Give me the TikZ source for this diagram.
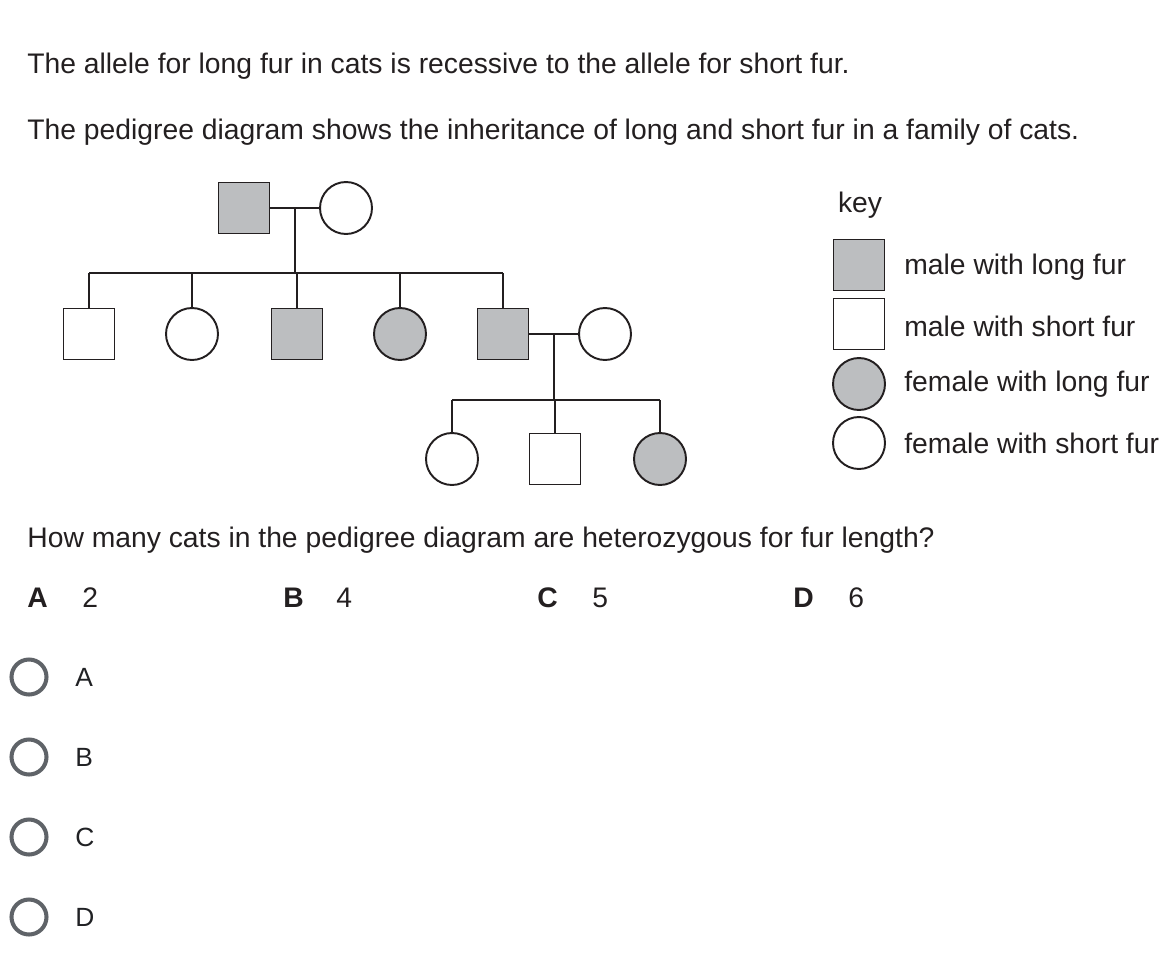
\documentclass[tikz,border=0pt]{standalone}
\usepackage{fontspec}
\setmainfont{Liberation Sans}
\usetikzlibrary{positioning,calc}

\definecolor{furgrey}{HTML}{BCBEC0}
\definecolor{inkgrey}{HTML}{231F20}
\definecolor{radiogrey}{HTML}{5F6368}
\definecolor{formtext}{HTML}{202124}

\tikzset{
    cat/.style={draw=inkgrey, line width=1.1pt, inner sep=0pt},
    male/.style={cat, rectangle, minimum size=1.02cm},
    female/.style={cat, circle, minimum size=1.04cm},
    longfur/.style={fill=furgrey},
    shortfur/.style={fill=white},
    link/.style={draw=inkgrey, line width=1.1pt},
    txt/.style={anchor=west, inner sep=0pt, font=\fontsize{16.1}{19}\selectfont, text=inkgrey},
    radio/.style={circle, draw=radiogrey, line width=2.3pt, minimum size=0.7cm, inner sep=0pt},
    radiolabel/.style={anchor=west, inner sep=0pt, font=\fontsize{15}{18}\selectfont, text=formtext}
}

\begin{document}
\begin{tikzpicture}[x=0.02cm, y=-0.02cm]
    % lienzo
    \useasboundingbox (0,0) rectangle (1172,970);

    % enunciado
    \node[txt] (intro) at (27,66) {The allele for long fur in cats is recessive to the allele for short fur.};
    \node[txt] (pedtext) at (27,132) {The pedigree diagram shows the inheritance of long and short fur in a family of cats.};

    %—————— generación 1 ——————
    \node[male, longfur] (dad) at (244,208) {};
    \node[female, shortfur] (mum) at (346,208) {};
    \coordinate (pair1) at ($(dad.east)!0.5!(mum.west)$);
    \coordinate (sib1) at (297,273);
    \draw[link] (dad.east) -- (mum.west);
    \draw[link] (pair1) -- (pair1 |- sib1);

    %—————— generación 2 ——————
    \node[male, shortfur]   (kidA) at (89,334) {};
    \node[female, shortfur] (kidB) at (192,334) {};
    \node[male, longfur]    (kidC) at (297,334) {};
    \node[female, longfur]  (kidD) at (400,334) {};
    \node[male, longfur]    (kidE) at (503,334) {};
    \node[female, shortfur] (wifeE) at (605,334) {};
    \draw[link] (kidA |- sib1) -- (kidE |- sib1);
    \foreach \k in {kidA,kidB,kidC,kidD,kidE}
        \draw[link] (\k.north) -- (\k |- sib1);
    \draw[link] (kidE.east) -- (wifeE.west);
    \coordinate (pair2) at ($(kidE.east)!0.5!(wifeE.west)$);
    \coordinate (sib2) at (555,400);
    \draw[link] (pair2) -- (pair2 |- sib2);

    %—————— generación 3 ——————
    \node[female, shortfur] (grandA) at (452,459) {};
    \node[male, shortfur]   (grandB) at (555,459) {};
    \node[female, longfur]  (grandC) at (660,459) {};
    \draw[link] (grandA |- sib2) -- (grandC |- sib2);
    \foreach \k in {grandA,grandB,grandC}
        \draw[link] (\k.north) -- (\k |- sib2);

    %—————— clave ——————
    \node[txt, anchor=center] (keytitle) at (860,205) {key};
    \node[male, longfur]    (keyML) at (859,265) {};
    \node[male, shortfur]   (keyMS) at (859,324) {};
    \node[female, longfur]  (keyFL) at (859,384) {};
    \node[female, shortfur] (keyFS) at (859,443) {};
    \node[txt] (keyMLtext) at (904,267) {male with long fur};
    \node[txt] (keyMStext) at (904,326) {male with short fur};
    \node[txt] (keyFLtext) at (904,384) {female with long fur};
    \node[txt] (keyFStext) at (904,443) {female with short fur};

    % pregunta y opciones
    \node[txt] (question) at (27,540) {How many cats in the pedigree diagram are heterozygous for fur length?};
    \node[txt] (optA) at (27,598) {\textbf{A}};
    \node[txt] (optAval) at (82,598) {2};
    \node[txt] (optB) at (283,598) {\textbf{B}};
    \node[txt] (optBval) at (336,598) {4};
    \node[txt] (optC) at (537,598) {\textbf{C}};
    \node[txt] (optCval) at (592,598) {5};
    \node[txt] (optD) at (793,598) {\textbf{D}};
    \node[txt] (optDval) at (848,598) {6};

    % botones de radio
    \foreach \l/\y in {A/677,B/757,C/837,D/917} {
        \node[radio] (radio\l) at (29,\y) {};
        \node[radiolabel] (radio\l text) at (75,\y) {\l};
    }
\end{tikzpicture}
\end{document}
